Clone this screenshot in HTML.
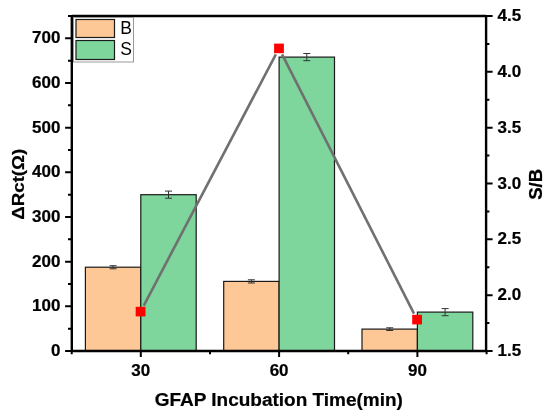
<!DOCTYPE html><html><head><meta charset="utf-8"><title>Chart</title><style>html,body{margin:0;padding:0;background:#fff}</style></head><body><svg width="550" height="419" viewBox="0 0 550 419" style="display:block;font-family:'Liberation Sans',sans-serif">
<rect width="550" height="419" fill="#fff"/>
<rect x="85.4" y="267.2" width="55.4" height="83.8" fill="#FDC896" stroke="#1a1a1a" stroke-width="1.2"/>
<rect x="140.8" y="194.7" width="55.4" height="156.3" fill="#7ED69C" stroke="#1a1a1a" stroke-width="1.2"/>
<path d="M113.1 265.7V268.8M109.6 265.7h7M109.6 268.8h7" stroke="#333" stroke-width="1" fill="none"/>
<path d="M168.5 191.1V198.2M165.0 191.1h7M165.0 198.2h7" stroke="#333" stroke-width="1" fill="none"/>
<rect x="223.7" y="281.4" width="55.4" height="69.6" fill="#FDC896" stroke="#1a1a1a" stroke-width="1.2"/>
<rect x="279.1" y="57.1" width="55.4" height="293.9" fill="#7ED69C" stroke="#1a1a1a" stroke-width="1.2"/>
<path d="M251.4 279.8V283.0M247.9 279.8h7M247.9 283.0h7" stroke="#333" stroke-width="1" fill="none"/>
<path d="M306.8 53.5V60.7M303.3 53.5h7M303.3 60.7h7" stroke="#333" stroke-width="1" fill="none"/>
<rect x="362.0" y="329.1" width="55.4" height="21.9" fill="#FDC896" stroke="#1a1a1a" stroke-width="1.2"/>
<rect x="417.4" y="312.1" width="55.4" height="38.9" fill="#7ED69C" stroke="#1a1a1a" stroke-width="1.2"/>
<path d="M389.7 327.8V330.5M386.2 327.8h7M386.2 330.5h7" stroke="#333" stroke-width="1" fill="none"/>
<path d="M445.1 308.6V315.7M441.6 308.6h7M441.6 315.7h7" stroke="#333" stroke-width="1" fill="none"/>
<line x1="143.76" y1="305.56" x2="275.84" y2="54.40" stroke="#707070" stroke-width="2.6"/>
<line x1="282.09" y1="54.44" x2="414.01" y2="313.56" stroke="#707070" stroke-width="2.6"/>
<rect x="135.7" y="306.8" width="9.8" height="9.6" fill="#FF0000"/>
<rect x="274.1" y="43.6" width="9.8" height="9.6" fill="#FF0000"/>
<rect x="412.2" y="314.8" width="9.8" height="9.6" fill="#FF0000"/>
<path d="M71.8 16.0H486.1M71.8 351.0H486.1M71.8 15.0V352.0M486.1 15.0V352.0" stroke="#000" stroke-width="2.4" fill="none"/>
<path d="M71.8 351.0h-6.7M71.8 306.3h-6.7M71.8 261.7h-6.7M71.8 217.0h-6.7M71.8 172.3h-6.7M71.8 127.7h-6.7M71.8 83.0h-6.7M71.8 38.3h-6.7M71.8 328.7h-3.8M71.8 284.0h-3.8M71.8 239.3h-3.8M71.8 194.7h-3.8M71.8 150.0h-3.8M71.8 105.3h-3.8M71.8 60.7h-3.8M71.8 16.0h-3.8M486.1 351.0h6.5M486.1 295.2h6.5M486.1 239.3h6.5M486.1 183.5h6.5M486.1 127.7h6.5M486.1 71.8h6.5M486.1 16.0h6.5M486.1 323.1h3.3M486.1 267.2h3.3M486.1 211.4h3.3M486.1 155.6h3.3M486.1 99.8h3.3M486.1 43.9h3.3M140.8 351.0v6M279.1 351.0v6M417.4 351.0v6M71.7 351.0v3.2M210.0 351.0v3.2M348.2 351.0v3.2M486.6 351.0v3.2" stroke="#000" stroke-width="2.0" fill="none"/>
<text x="60.4" y="356.0" font-size="17" font-weight="bold" stroke="#000" stroke-width="0.22" text-anchor="end">0</text>
<text x="60.4" y="311.3" font-size="17" font-weight="bold" stroke="#000" stroke-width="0.22" text-anchor="end">100</text>
<text x="60.4" y="266.7" font-size="17" font-weight="bold" stroke="#000" stroke-width="0.22" text-anchor="end">200</text>
<text x="60.4" y="222.0" font-size="17" font-weight="bold" stroke="#000" stroke-width="0.22" text-anchor="end">300</text>
<text x="60.4" y="177.3" font-size="17" font-weight="bold" stroke="#000" stroke-width="0.22" text-anchor="end">400</text>
<text x="60.4" y="132.7" font-size="17" font-weight="bold" stroke="#000" stroke-width="0.22" text-anchor="end">500</text>
<text x="60.4" y="88.0" font-size="17" font-weight="bold" stroke="#000" stroke-width="0.22" text-anchor="end">600</text>
<text x="60.4" y="43.3" font-size="17" font-weight="bold" stroke="#000" stroke-width="0.22" text-anchor="end">700</text>
<text x="497.6" y="356.1" font-size="17" font-weight="bold" stroke="#000" stroke-width="0.22">1.5</text>
<text x="497.6" y="300.3" font-size="17" font-weight="bold" stroke="#000" stroke-width="0.22">2.0</text>
<text x="497.6" y="244.4" font-size="17" font-weight="bold" stroke="#000" stroke-width="0.22">2.5</text>
<text x="497.6" y="188.6" font-size="17" font-weight="bold" stroke="#000" stroke-width="0.22">3.0</text>
<text x="497.6" y="132.8" font-size="17" font-weight="bold" stroke="#000" stroke-width="0.22">3.5</text>
<text x="497.6" y="76.9" font-size="17" font-weight="bold" stroke="#000" stroke-width="0.22">4.0</text>
<text x="497.6" y="21.1" font-size="17" font-weight="bold" stroke="#000" stroke-width="0.22">4.5</text>
<text x="140.8" y="375.5" font-size="17" font-weight="bold" stroke="#000" stroke-width="0.22" text-anchor="middle">30</text>
<text x="279.1" y="375.5" font-size="17" font-weight="bold" stroke="#000" stroke-width="0.22" text-anchor="middle">60</text>
<text x="417.4" y="375.5" font-size="17" font-weight="bold" stroke="#000" stroke-width="0.22" text-anchor="middle">90</text>
<text transform="translate(278.8,406.4) scale(1,0.96)" font-size="19" font-weight="bold" stroke="#000" stroke-width="0.22" text-anchor="middle">GFAP Incubation Time(min)</text>
<text transform="translate(24.0,184.2) rotate(-90) scale(1.1,1)" font-size="17" font-weight="bold" stroke="#000" stroke-width="0.22" text-anchor="middle">ΔRct(Ω)</text>
<text transform="translate(542.3,184.4) rotate(-90) scale(1.03,1)" font-size="18" font-weight="bold" stroke="#000" stroke-width="0.22" text-anchor="middle">S/B</text>
<rect x="73.5" y="17.5" width="60" height="44.5" fill="#fff" stroke="#999" stroke-width="1"/>
<rect x="76" y="19.5" width="38.5" height="18" fill="#FDC896" stroke="#1a1a1a" stroke-width="1.2"/>
<rect x="76" y="40.5" width="38.5" height="19" fill="#7ED69C" stroke="#1a1a1a" stroke-width="1.2"/>
<text x="120.2" y="33.9" font-size="17.5">B</text>
<text x="120.2" y="55.4" font-size="17.5">S</text>
</svg></body></html>
